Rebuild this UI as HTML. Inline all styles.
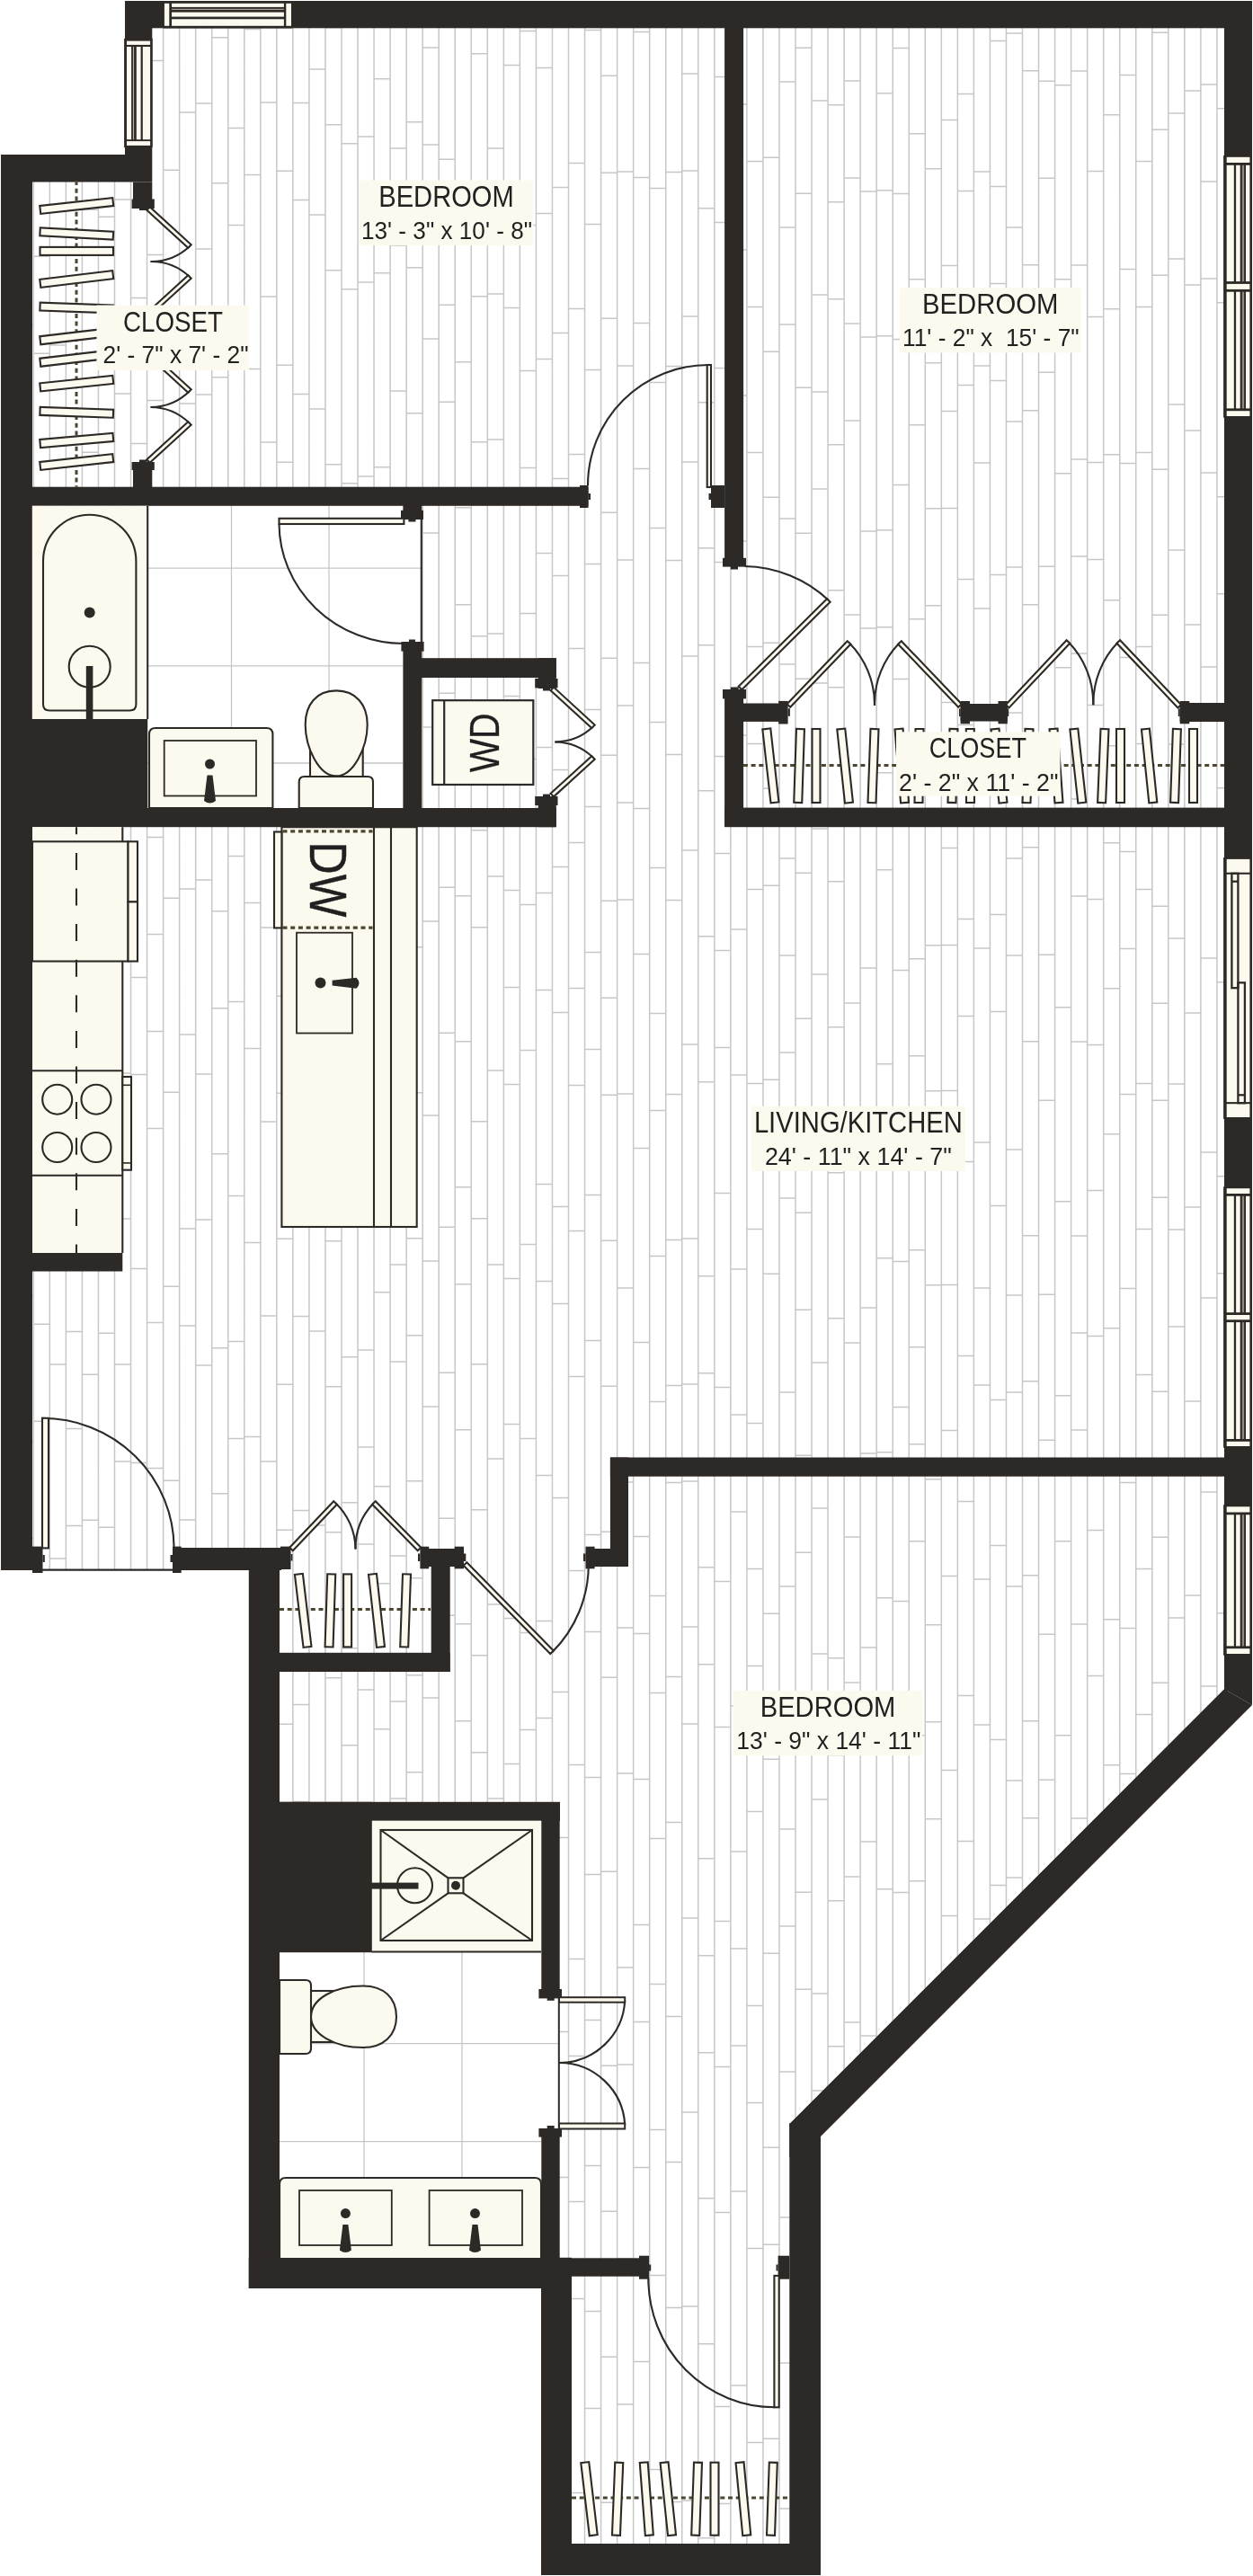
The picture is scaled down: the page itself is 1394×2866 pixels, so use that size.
<!DOCTYPE html>
<html><head><meta charset="utf-8"><title>Floor plan</title>
<style>html,body{margin:0;padding:0;background:#fff}svg{display:block}</style></head>
<body><svg width="1394" height="2866" viewBox="0 0 1394 2866">
<rect width="1394" height="2866" fill="#ffffff"/>
<defs><clipPath id="bld"><polygon points="139,1 1393,1 1393,1897 913,2377 913,2865 602,2865 602,2546 276.8,2546 276.8,1747 1,1747 1,172 139,172"/></clipPath></defs>
<g clip-path="url(#bld)">
<path d="M1.24 0V2866M1.24 15.9h18.04M1.24 231.9h18.04M1.24 339.9h18.04M1.24 447.9h18.04M1.24 663.9h18.04M1.24 771.9h18.04M1.24 933.9h18.04M1.24 1149.9h18.04M1.24 1257.9h18.04M1.24 1473.9h18.04M1.24 1635.9h18.04M1.24 1743.9h18.04M1.24 1851.9h18.04M1.24 2067.9h18.04M1.24 2283.9h18.04M1.24 2391.9h18.04M1.24 2553.9h18.04M1.24 2661.9h18.04M1.24 2877.9h18.04M19.28 0V2866M19.28 91.7h18.04M19.28 199.7h18.04M19.28 361.7h18.04M19.28 577.7h18.04M19.28 685.7h18.04M19.28 901.7h18.04M19.28 1117.7h18.04M19.28 1333.7h18.04M19.28 1441.7h18.04M19.28 1603.7h18.04M19.28 1711.7h18.04M19.28 1927.7h18.04M19.28 2089.7h18.04M19.28 2251.7h18.04M19.28 2467.7h18.04M19.28 2629.7h18.04M19.28 2845.7h18.04M19.28 2953.7h18.04M37.31 0V2866M37.31 123.3h18.04M37.31 285.3h18.04M37.31 393.3h18.04M37.31 609.3h18.04M37.31 825.3h18.04M37.31 987.3h18.04M37.31 1149.3h18.04M37.31 1257.3h18.04M37.31 1473.3h18.04M37.31 1581.3h18.04M37.31 1797.3h18.04M37.31 1905.3h18.04M37.31 2121.3h18.04M37.31 2283.3h18.04M37.31 2499.3h18.04M37.31 2715.3h18.04M37.31 2931.3h18.04M55.35 0V2866M55.35 167.9h18.04M55.35 383.9h18.04M55.35 599.9h18.04M55.35 761.9h18.04M55.35 923.9h18.04M55.35 1085.9h18.04M55.35 1247.9h18.04M55.35 1409.9h18.04M55.35 1517.9h18.04M55.35 1733.9h18.04M55.35 1895.9h18.04M55.35 2111.9h18.04M55.35 2327.9h18.04M55.35 2489.9h18.04M55.35 2705.9h18.04M55.35 2867.9h18.04M73.38 0V2866M73.38 23.5h18.04M73.38 131.5h18.04M73.38 347.5h18.04M73.38 563.5h18.04M73.38 725.5h18.04M73.38 887.5h18.04M73.38 1049.5h18.04M73.38 1265.5h18.04M73.38 1481.5h18.04M73.38 1589.5h18.04M73.38 1697.5h18.04M73.38 1913.5h18.04M73.38 2129.5h18.04M73.38 2291.5h18.04M73.38 2453.5h18.04M73.38 2615.5h18.04M73.38 2831.5h18.04M73.38 3047.5h18.04M91.42 0V2866M91.42 125.3h18.04M91.42 233.3h18.04M91.42 341.3h18.04M91.42 503.3h18.04M91.42 719.3h18.04M91.42 827.3h18.04M91.42 935.3h18.04M91.42 1097.3h18.04M91.42 1313.3h18.04M91.42 1529.3h18.04M91.42 1691.3h18.04M91.42 1907.3h18.04M91.42 2069.3h18.04M91.42 2177.3h18.04M91.42 2393.3h18.04M91.42 2555.3h18.04M91.42 2717.3h18.04M91.42 2933.3h18.04M109.46 0V2866M109.46 -82.7h18.04M109.46 79.3h18.04M109.46 241.3h18.04M109.46 403.3h18.04M109.46 565.3h18.04M109.46 781.3h18.04M109.46 997.3h18.04M109.46 1213.3h18.04M109.46 1321.3h18.04M109.46 1483.3h18.04M109.46 1699.3h18.04M109.46 1915.3h18.04M109.46 2131.3h18.04M109.46 2293.3h18.04M109.46 2455.3h18.04M109.46 2671.3h18.04M109.46 2887.3h18.04M127.49 0V2866M127.49 60.1h18.04M127.49 222.1h18.04M127.49 438.1h18.04M127.49 600.1h18.04M127.49 762.1h18.04M127.49 870.1h18.04M127.49 1032.1h18.04M127.49 1194.1h18.04M127.49 1356.1h18.04M127.49 1518.1h18.04M127.49 1626.1h18.04M127.49 1842.1h18.04M127.49 2058.1h18.04M127.49 2220.1h18.04M127.49 2382.1h18.04M127.49 2544.1h18.04M127.49 2652.1h18.04M127.49 2814.1h18.04M127.49 3030.1h18.04M145.53 0V2866M145.53 115.5h18.04M145.53 331.5h18.04M145.53 493.5h18.04M145.53 655.5h18.04M145.53 871.5h18.04M145.53 1087.5h18.04M145.53 1195.5h18.04M145.53 1411.5h18.04M145.53 1627.5h18.04M145.53 1843.5h18.04M145.53 2059.5h18.04M145.53 2275.5h18.04M145.53 2491.5h18.04M145.53 2599.5h18.04M145.53 2815.5h18.04M145.53 3031.5h18.04M163.56 0V2866M163.56 -94.6h18.04M163.56 67.4h18.04M163.56 283.4h18.04M163.56 445.4h18.04M163.56 553.4h18.04M163.56 715.4h18.04M163.56 931.4h18.04M163.56 1039.4h18.04M163.56 1147.4h18.04M163.56 1255.4h18.04M163.56 1471.4h18.04M163.56 1633.4h18.04M163.56 1849.4h18.04M163.56 1957.4h18.04M163.56 2119.4h18.04M163.56 2335.4h18.04M163.56 2443.4h18.04M163.56 2551.4h18.04M163.56 2713.4h18.04M163.56 2929.4h18.04M181.60 0V2866M181.60 27.3h18.04M181.60 189.3h18.04M181.60 405.3h18.04M181.60 567.3h18.04M181.60 783.3h18.04M181.60 891.3h18.04M181.60 999.3h18.04M181.60 1215.3h18.04M181.60 1431.3h18.04M181.60 1647.3h18.04M181.60 1863.3h18.04M181.60 2025.3h18.04M181.60 2133.3h18.04M181.60 2295.3h18.04M181.60 2403.3h18.04M181.60 2565.3h18.04M181.60 2727.3h18.04M181.60 2943.3h18.04M199.64 0V2866M199.64 125.0h18.04M199.64 341.0h18.04M199.64 449.0h18.04M199.64 611.0h18.04M199.64 827.0h18.04M199.64 989.0h18.04M199.64 1151.0h18.04M199.64 1367.0h18.04M199.64 1475.0h18.04M199.64 1691.0h18.04M199.64 1853.0h18.04M199.64 1961.0h18.04M199.64 2123.0h18.04M199.64 2339.0h18.04M199.64 2501.0h18.04M199.64 2663.0h18.04M199.64 2825.0h18.04M199.64 2987.0h18.04M217.67 0V2866M217.67 115.0h18.04M217.67 277.0h18.04M217.67 439.0h18.04M217.67 655.0h18.04M217.67 817.0h18.04M217.67 979.0h18.04M217.67 1195.0h18.04M217.67 1357.0h18.04M217.67 1519.0h18.04M217.67 1735.0h18.04M217.67 1951.0h18.04M217.67 2113.0h18.04M217.67 2221.0h18.04M217.67 2329.0h18.04M217.67 2491.0h18.04M217.67 2707.0h18.04M217.67 2869.0h18.04M235.71 0V2866M235.71 41.8h18.04M235.71 203.8h18.04M235.71 419.8h18.04M235.71 581.8h18.04M235.71 743.8h18.04M235.71 851.8h18.04M235.71 1013.8h18.04M235.71 1121.8h18.04M235.71 1283.8h18.04M235.71 1499.8h18.04M235.71 1661.8h18.04M235.71 1823.8h18.04M235.71 1985.8h18.04M235.71 2201.8h18.04M235.71 2417.8h18.04M235.71 2633.8h18.04M235.71 2741.8h18.04M235.71 2957.8h18.04M253.74 0V2866M253.74 142.4h18.04M253.74 250.4h18.04M253.74 358.4h18.04M253.74 574.4h18.04M253.74 736.4h18.04M253.74 952.4h18.04M253.74 1114.4h18.04M253.74 1330.4h18.04M253.74 1492.4h18.04M253.74 1600.4h18.04M253.74 1816.4h18.04M253.74 2032.4h18.04M253.74 2248.4h18.04M253.74 2356.4h18.04M253.74 2518.4h18.04M253.74 2680.4h18.04M253.74 2842.4h18.04M253.74 2950.4h18.04M271.78 0V2866M271.78 32.6h18.04M271.78 194.6h18.04M271.78 410.6h18.04M271.78 626.6h18.04M271.78 842.6h18.04M271.78 1004.6h18.04M271.78 1166.6h18.04M271.78 1382.6h18.04M271.78 1598.6h18.04M271.78 1760.6h18.04M271.78 1868.6h18.04M271.78 1976.6h18.04M271.78 2084.6h18.04M271.78 2300.6h18.04M271.78 2462.6h18.04M271.78 2678.6h18.04M271.78 2840.6h18.04M271.78 3002.6h18.04M289.82 0V2866M289.82 -48.0h18.04M289.82 114.0h18.04M289.82 330.0h18.04M289.82 492.0h18.04M289.82 708.0h18.04M289.82 870.0h18.04M289.82 1032.0h18.04M289.82 1248.0h18.04M289.82 1464.0h18.04M289.82 1626.0h18.04M289.82 1734.0h18.04M289.82 1896.0h18.04M289.82 2112.0h18.04M289.82 2328.0h18.04M289.82 2544.0h18.04M289.82 2760.0h18.04M289.82 2976.0h18.04M307.85 0V2866M307.85 -25.8h18.04M307.85 190.2h18.04M307.85 406.2h18.04M307.85 514.2h18.04M307.85 730.2h18.04M307.85 892.2h18.04M307.85 1108.2h18.04M307.85 1216.2h18.04M307.85 1378.2h18.04M307.85 1540.2h18.04M307.85 1702.2h18.04M307.85 1918.2h18.04M307.85 2134.2h18.04M307.85 2242.2h18.04M307.85 2458.2h18.04M307.85 2566.2h18.04M307.85 2728.2h18.04M307.85 2944.2h18.04M325.89 0V2866M325.89 114.6h18.04M325.89 222.6h18.04M325.89 438.6h18.04M325.89 546.6h18.04M325.89 708.6h18.04M325.89 870.6h18.04M325.89 1032.6h18.04M325.89 1140.6h18.04M325.89 1248.6h18.04M325.89 1464.6h18.04M325.89 1680.6h18.04M325.89 1896.6h18.04M325.89 2004.6h18.04M325.89 2112.6h18.04M325.89 2328.6h18.04M325.89 2490.6h18.04M325.89 2706.6h18.04M325.89 2922.6h18.04M343.92 0V2866M343.92 76.9h18.04M343.92 238.9h18.04M343.92 454.9h18.04M343.92 670.9h18.04M343.92 886.9h18.04M343.92 1102.9h18.04M343.92 1318.9h18.04M343.92 1480.9h18.04M343.92 1696.9h18.04M343.92 1858.9h18.04M343.92 2074.9h18.04M343.92 2236.9h18.04M343.92 2452.9h18.04M343.92 2614.9h18.04M343.92 2830.9h18.04M343.92 2938.9h18.04M361.96 0V2866M361.96 30.8h18.04M361.96 138.8h18.04M361.96 300.8h18.04M361.96 516.8h18.04M361.96 624.8h18.04M361.96 786.8h18.04M361.96 948.8h18.04M361.96 1056.8h18.04M361.96 1218.8h18.04M361.96 1380.8h18.04M361.96 1542.8h18.04M361.96 1704.8h18.04M361.96 1866.8h18.04M361.96 2082.8h18.04M361.96 2244.8h18.04M361.96 2352.8h18.04M361.96 2568.8h18.04M361.96 2784.8h18.04M361.96 2946.8h18.04M380.00 0V2866M380.00 159.8h18.04M380.00 321.8h18.04M380.00 537.8h18.04M380.00 753.8h18.04M380.00 969.8h18.04M380.00 1131.8h18.04M380.00 1347.8h18.04M380.00 1509.8h18.04M380.00 1671.8h18.04M380.00 1833.8h18.04M380.00 1941.8h18.04M380.00 2103.8h18.04M380.00 2211.8h18.04M380.00 2373.8h18.04M380.00 2589.8h18.04M380.00 2805.8h18.04M380.00 3021.8h18.04M398.03 0V2866M398.03 151.9h18.04M398.03 313.9h18.04M398.03 529.9h18.04M398.03 745.9h18.04M398.03 907.9h18.04M398.03 1123.9h18.04M398.03 1231.9h18.04M398.03 1339.9h18.04M398.03 1501.9h18.04M398.03 1609.9h18.04M398.03 1717.9h18.04M398.03 1879.9h18.04M398.03 2041.9h18.04M398.03 2149.9h18.04M398.03 2311.9h18.04M398.03 2473.9h18.04M398.03 2635.9h18.04M398.03 2851.9h18.04M398.03 3013.9h18.04M416.07 0V2866M416.07 87.7h18.04M416.07 303.7h18.04M416.07 519.7h18.04M416.07 735.7h18.04M416.07 897.7h18.04M416.07 1005.7h18.04M416.07 1167.7h18.04M416.07 1275.7h18.04M416.07 1437.7h18.04M416.07 1653.7h18.04M416.07 1761.7h18.04M416.07 1923.7h18.04M416.07 2031.7h18.04M416.07 2139.7h18.04M416.07 2301.7h18.04M416.07 2409.7h18.04M416.07 2625.7h18.04M416.07 2787.7h18.04M416.07 2895.7h18.04M434.10 0V2866M434.10 -50.9h18.04M434.10 165.1h18.04M434.10 273.1h18.04M434.10 435.1h18.04M434.10 651.1h18.04M434.10 867.1h18.04M434.10 1029.1h18.04M434.10 1245.1h18.04M434.10 1407.1h18.04M434.10 1515.1h18.04M434.10 1731.1h18.04M434.10 1893.1h18.04M434.10 2001.1h18.04M434.10 2163.1h18.04M434.10 2325.1h18.04M434.10 2433.1h18.04M434.10 2595.1h18.04M434.10 2757.1h18.04M434.10 2919.1h18.04M452.14 0V2866M452.14 135.8h18.04M452.14 297.8h18.04M452.14 459.8h18.04M452.14 675.8h18.04M452.14 891.8h18.04M452.14 1053.8h18.04M452.14 1215.8h18.04M452.14 1377.8h18.04M452.14 1485.8h18.04M452.14 1647.8h18.04M452.14 1755.8h18.04M452.14 1863.8h18.04M452.14 1971.8h18.04M452.14 2187.8h18.04M452.14 2403.8h18.04M452.14 2565.8h18.04M452.14 2781.8h18.04M452.14 2997.8h18.04M470.18 0V2866M470.18 53.1h18.04M470.18 161.1h18.04M470.18 377.1h18.04M470.18 593.1h18.04M470.18 809.1h18.04M470.18 1025.1h18.04M470.18 1241.1h18.04M470.18 1403.1h18.04M470.18 1565.1h18.04M470.18 1727.1h18.04M470.18 1889.1h18.04M470.18 2051.1h18.04M470.18 2213.1h18.04M470.18 2429.1h18.04M470.18 2591.1h18.04M470.18 2699.1h18.04M470.18 2861.1h18.04M470.18 2969.1h18.04M488.21 0V2866M488.21 -38.7h18.04M488.21 177.3h18.04M488.21 339.3h18.04M488.21 447.3h18.04M488.21 555.3h18.04M488.21 771.3h18.04M488.21 987.3h18.04M488.21 1149.3h18.04M488.21 1365.3h18.04M488.21 1527.3h18.04M488.21 1689.3h18.04M488.21 1797.3h18.04M488.21 2013.3h18.04M488.21 2175.3h18.04M488.21 2337.3h18.04M488.21 2499.3h18.04M488.21 2715.3h18.04M488.21 2823.3h18.04M488.21 2985.3h18.04M506.25 0V2866M506.25 24.7h18.04M506.25 240.7h18.04M506.25 402.7h18.04M506.25 564.7h18.04M506.25 672.7h18.04M506.25 834.7h18.04M506.25 996.7h18.04M506.25 1158.7h18.04M506.25 1320.7h18.04M506.25 1428.7h18.04M506.25 1590.7h18.04M506.25 1806.7h18.04M506.25 1914.7h18.04M506.25 2130.7h18.04M506.25 2292.7h18.04M506.25 2508.7h18.04M506.25 2670.7h18.04M506.25 2832.7h18.04M506.25 3048.7h18.04M524.28 0V2866M524.28 59.7h18.04M524.28 221.7h18.04M524.28 329.7h18.04M524.28 491.7h18.04M524.28 707.7h18.04M524.28 923.7h18.04M524.28 1031.7h18.04M524.28 1247.7h18.04M524.28 1355.7h18.04M524.28 1517.7h18.04M524.28 1679.7h18.04M524.28 1841.7h18.04M524.28 1949.7h18.04M524.28 2165.7h18.04M524.28 2381.7h18.04M524.28 2543.7h18.04M524.28 2759.7h18.04M524.28 2975.7h18.04M542.32 0V2866M542.32 165.1h18.04M542.32 327.1h18.04M542.32 489.1h18.04M542.32 705.1h18.04M542.32 867.1h18.04M542.32 975.1h18.04M542.32 1191.1h18.04M542.32 1407.1h18.04M542.32 1623.1h18.04M542.32 1785.1h18.04M542.32 2001.1h18.04M542.32 2217.1h18.04M542.32 2433.1h18.04M542.32 2541.1h18.04M542.32 2757.1h18.04M542.32 2919.1h18.04M560.36 0V2866M560.36 -89.6h18.04M560.36 72.4h18.04M560.36 234.4h18.04M560.36 342.4h18.04M560.36 558.4h18.04M560.36 774.4h18.04M560.36 990.4h18.04M560.36 1098.4h18.04M560.36 1206.4h18.04M560.36 1422.4h18.04M560.36 1584.4h18.04M560.36 1800.4h18.04M560.36 1962.4h18.04M560.36 2070.4h18.04M560.36 2286.4h18.04M560.36 2394.4h18.04M560.36 2610.4h18.04M560.36 2826.4h18.04M560.36 2934.4h18.04M578.39 0V2866M578.39 34.4h18.04M578.39 250.4h18.04M578.39 412.4h18.04M578.39 520.4h18.04M578.39 682.4h18.04M578.39 844.4h18.04M578.39 1006.4h18.04M578.39 1168.4h18.04M578.39 1384.4h18.04M578.39 1600.4h18.04M578.39 1816.4h18.04M578.39 1924.4h18.04M578.39 2140.4h18.04M578.39 2302.4h18.04M578.39 2410.4h18.04M578.39 2626.4h18.04M578.39 2788.4h18.04M578.39 2896.4h18.04M596.43 0V2866M596.43 75.5h18.04M596.43 237.5h18.04M596.43 399.5h18.04M596.43 615.5h18.04M596.43 831.5h18.04M596.43 993.5h18.04M596.43 1101.5h18.04M596.43 1317.5h18.04M596.43 1425.5h18.04M596.43 1641.5h18.04M596.43 1803.5h18.04M596.43 1911.5h18.04M596.43 2073.5h18.04M596.43 2289.5h18.04M596.43 2451.5h18.04M596.43 2667.5h18.04M596.43 2829.5h18.04M596.43 3045.5h18.04M614.46 0V2866M614.46 -7.4h18.04M614.46 208.6h18.04M614.46 370.6h18.04M614.46 532.6h18.04M614.46 640.6h18.04M614.46 856.6h18.04M614.46 964.6h18.04M614.46 1126.6h18.04M614.46 1342.6h18.04M614.46 1450.6h18.04M614.46 1666.6h18.04M614.46 1882.6h18.04M614.46 2044.6h18.04M614.46 2260.6h18.04M614.46 2422.6h18.04M614.46 2584.6h18.04M614.46 2692.6h18.04M614.46 2908.6h18.04M632.50 0V2866M632.50 19.5h18.04M632.50 181.5h18.04M632.50 343.5h18.04M632.50 505.5h18.04M632.50 721.5h18.04M632.50 937.5h18.04M632.50 1099.5h18.04M632.50 1207.5h18.04M632.50 1369.5h18.04M632.50 1531.5h18.04M632.50 1747.5h18.04M632.50 1963.5h18.04M632.50 2179.5h18.04M632.50 2287.5h18.04M632.50 2449.5h18.04M632.50 2557.5h18.04M632.50 2773.5h18.04M632.50 2989.5h18.04M650.54 0V2866M650.54 33.6h18.04M650.54 249.6h18.04M650.54 411.6h18.04M650.54 627.6h18.04M650.54 789.6h18.04M650.54 897.6h18.04M650.54 1059.6h18.04M650.54 1167.6h18.04M650.54 1329.6h18.04M650.54 1491.6h18.04M650.54 1707.6h18.04M650.54 1815.6h18.04M650.54 1977.6h18.04M650.54 2085.6h18.04M650.54 2247.6h18.04M650.54 2409.6h18.04M650.54 2571.6h18.04M650.54 2679.6h18.04M650.54 2895.6h18.04M668.57 0V2866M668.57 84.3h18.04M668.57 192.3h18.04M668.57 354.3h18.04M668.57 570.3h18.04M668.57 732.3h18.04M668.57 840.3h18.04M668.57 1002.3h18.04M668.57 1110.3h18.04M668.57 1218.3h18.04M668.57 1380.3h18.04M668.57 1542.3h18.04M668.57 1704.3h18.04M668.57 1866.3h18.04M668.57 2082.3h18.04M668.57 2298.3h18.04M668.57 2460.3h18.04M668.57 2622.3h18.04M668.57 2784.3h18.04M668.57 3000.3h18.04M686.61 0V2866M686.61 191.0h18.04M686.61 407.0h18.04M686.61 623.0h18.04M686.61 785.0h18.04M686.61 893.0h18.04M686.61 1001.0h18.04M686.61 1217.0h18.04M686.61 1433.0h18.04M686.61 1649.0h18.04M686.61 1811.0h18.04M686.61 1973.0h18.04M686.61 2189.0h18.04M686.61 2297.0h18.04M686.61 2513.0h18.04M686.61 2675.0h18.04M686.61 2837.0h18.04M686.61 3053.0h18.04M704.64 0V2866M704.64 35.6h18.04M704.64 197.6h18.04M704.64 359.6h18.04M704.64 521.6h18.04M704.64 737.6h18.04M704.64 899.6h18.04M704.64 1061.6h18.04M704.64 1277.6h18.04M704.64 1493.6h18.04M704.64 1709.6h18.04M704.64 1817.6h18.04M704.64 1979.6h18.04M704.64 2141.6h18.04M704.64 2249.6h18.04M704.64 2411.6h18.04M704.64 2627.6h18.04M704.64 2843.6h18.04M704.64 3059.6h18.04M722.68 0V2866M722.68 -6.5h18.04M722.68 209.5h18.04M722.68 425.5h18.04M722.68 587.5h18.04M722.68 803.5h18.04M722.68 965.5h18.04M722.68 1127.5h18.04M722.68 1235.5h18.04M722.68 1397.5h18.04M722.68 1559.5h18.04M722.68 1775.5h18.04M722.68 1883.5h18.04M722.68 2045.5h18.04M722.68 2207.5h18.04M722.68 2369.5h18.04M722.68 2531.5h18.04M722.68 2747.5h18.04M722.68 2909.5h18.04M740.72 0V2866M740.72 191.6h18.04M740.72 407.6h18.04M740.72 623.6h18.04M740.72 839.6h18.04M740.72 1001.6h18.04M740.72 1217.6h18.04M740.72 1379.6h18.04M740.72 1541.6h18.04M740.72 1649.6h18.04M740.72 1865.6h18.04M740.72 2027.6h18.04M740.72 2243.6h18.04M740.72 2405.6h18.04M740.72 2567.6h18.04M740.72 2783.6h18.04M740.72 2999.6h18.04M758.75 0V2866M758.75 82.0h18.04M758.75 190.0h18.04M758.75 352.0h18.04M758.75 514.0h18.04M758.75 730.0h18.04M758.75 946.0h18.04M758.75 1162.0h18.04M758.75 1378.0h18.04M758.75 1540.0h18.04M758.75 1648.0h18.04M758.75 1810.0h18.04M758.75 1918.0h18.04M758.75 2134.0h18.04M758.75 2350.0h18.04M758.75 2566.0h18.04M758.75 2782.0h18.04M758.75 2890.0h18.04M776.79 0V2866M776.79 15.8h18.04M776.79 231.8h18.04M776.79 447.8h18.04M776.79 609.8h18.04M776.79 717.8h18.04M776.79 879.8h18.04M776.79 1041.8h18.04M776.79 1203.8h18.04M776.79 1419.8h18.04M776.79 1527.8h18.04M776.79 1743.8h18.04M776.79 1851.8h18.04M776.79 2067.8h18.04M776.79 2175.8h18.04M776.79 2283.8h18.04M776.79 2445.8h18.04M776.79 2607.8h18.04M776.79 2823.8h18.04M776.79 2931.8h18.04M794.82 0V2866M794.82 85.4h18.04M794.82 247.4h18.04M794.82 409.4h18.04M794.82 625.4h18.04M794.82 841.4h18.04M794.82 949.4h18.04M794.82 1057.4h18.04M794.82 1165.4h18.04M794.82 1327.4h18.04M794.82 1543.4h18.04M794.82 1759.4h18.04M794.82 1921.4h18.04M794.82 2137.4h18.04M794.82 2299.4h18.04M794.82 2461.4h18.04M794.82 2677.4h18.04M794.82 2785.4h18.04M794.82 2893.4h18.04M812.86 0V2866M812.86 116.1h18.04M812.86 278.1h18.04M812.86 440.1h18.04M812.86 602.1h18.04M812.86 818.1h18.04M812.86 1034.1h18.04M812.86 1196.1h18.04M812.86 1412.1h18.04M812.86 1574.1h18.04M812.86 1682.1h18.04M812.86 1898.1h18.04M812.86 2060.1h18.04M812.86 2168.1h18.04M812.86 2276.1h18.04M812.86 2438.1h18.04M812.86 2654.1h18.04M812.86 2870.1h18.04M830.90 0V2866M830.90 -36.5h18.04M830.90 179.5h18.04M830.90 341.5h18.04M830.90 503.5h18.04M830.90 719.5h18.04M830.90 827.5h18.04M830.90 989.5h18.04M830.90 1205.5h18.04M830.90 1367.5h18.04M830.90 1583.5h18.04M830.90 1745.5h18.04M830.90 1853.5h18.04M830.90 2015.5h18.04M830.90 2231.5h18.04M830.90 2339.5h18.04M830.90 2501.5h18.04M830.90 2717.5h18.04M830.90 2879.5h18.04M848.93 0V2866M848.93 13.3h18.04M848.93 175.3h18.04M848.93 391.3h18.04M848.93 553.3h18.04M848.93 715.3h18.04M848.93 877.3h18.04M848.93 985.3h18.04M848.93 1201.3h18.04M848.93 1417.3h18.04M848.93 1633.3h18.04M848.93 1795.3h18.04M848.93 1957.3h18.04M848.93 2173.3h18.04M848.93 2389.3h18.04M848.93 2497.3h18.04M848.93 2713.3h18.04M848.93 2875.3h18.04M866.97 0V2866M866.97 91.1h18.04M866.97 253.1h18.04M866.97 361.1h18.04M866.97 577.1h18.04M866.97 739.1h18.04M866.97 955.1h18.04M866.97 1063.1h18.04M866.97 1171.1h18.04M866.97 1333.1h18.04M866.97 1549.1h18.04M866.97 1765.1h18.04M866.97 1927.1h18.04M866.97 2035.1h18.04M866.97 2143.1h18.04M866.97 2305.1h18.04M866.97 2467.1h18.04M866.97 2629.1h18.04M866.97 2791.1h18.04M866.97 3007.1h18.04M885.00 0V2866M885.00 53.2h18.04M885.00 215.2h18.04M885.00 431.2h18.04M885.00 593.2h18.04M885.00 755.2h18.04M885.00 971.2h18.04M885.00 1133.2h18.04M885.00 1241.2h18.04M885.00 1349.2h18.04M885.00 1457.2h18.04M885.00 1619.2h18.04M885.00 1727.2h18.04M885.00 1889.2h18.04M885.00 2105.2h18.04M885.00 2213.2h18.04M885.00 2429.2h18.04M885.00 2591.2h18.04M885.00 2807.2h18.04M885.00 2969.2h18.04M903.04 0V2866M903.04 112.0h18.04M903.04 328.0h18.04M903.04 436.0h18.04M903.04 544.0h18.04M903.04 760.0h18.04M903.04 922.0h18.04M903.04 1084.0h18.04M903.04 1300.0h18.04M903.04 1516.0h18.04M903.04 1678.0h18.04M903.04 1840.0h18.04M903.04 2002.0h18.04M903.04 2218.0h18.04M903.04 2326.0h18.04M903.04 2542.0h18.04M903.04 2704.0h18.04M903.04 2920.0h18.04M921.08 0V2866M921.08 -99.2h18.04M921.08 116.8h18.04M921.08 224.8h18.04M921.08 332.8h18.04M921.08 494.8h18.04M921.08 656.8h18.04M921.08 764.8h18.04M921.08 980.8h18.04M921.08 1142.8h18.04M921.08 1304.8h18.04M921.08 1466.8h18.04M921.08 1628.8h18.04M921.08 1844.8h18.04M921.08 1952.8h18.04M921.08 2114.8h18.04M921.08 2276.8h18.04M921.08 2438.8h18.04M921.08 2600.8h18.04M921.08 2708.8h18.04M921.08 2924.8h18.04M939.11 0V2866M939.11 90.0h18.04M939.11 198.0h18.04M939.11 360.0h18.04M939.11 468.0h18.04M939.11 684.0h18.04M939.11 900.0h18.04M939.11 1116.0h18.04M939.11 1278.0h18.04M939.11 1494.0h18.04M939.11 1710.0h18.04M939.11 1872.0h18.04M939.11 2088.0h18.04M939.11 2250.0h18.04M939.11 2358.0h18.04M939.11 2520.0h18.04M939.11 2682.0h18.04M939.11 2898.0h18.04M957.15 0V2866M957.15 -3.0h18.04M957.15 213.0h18.04M957.15 375.0h18.04M957.15 591.0h18.04M957.15 699.0h18.04M957.15 915.0h18.04M957.15 1077.0h18.04M957.15 1293.0h18.04M957.15 1455.0h18.04M957.15 1617.0h18.04M957.15 1833.0h18.04M957.15 1941.0h18.04M957.15 2049.0h18.04M957.15 2265.0h18.04M957.15 2481.0h18.04M957.15 2697.0h18.04M957.15 2859.0h18.04M957.15 3021.0h18.04M975.18 0V2866M975.18 103.7h18.04M975.18 211.7h18.04M975.18 373.7h18.04M975.18 589.7h18.04M975.18 697.7h18.04M975.18 859.7h18.04M975.18 967.7h18.04M975.18 1183.7h18.04M975.18 1399.7h18.04M975.18 1615.7h18.04M975.18 1777.7h18.04M975.18 1939.7h18.04M975.18 2101.7h18.04M975.18 2317.7h18.04M975.18 2533.7h18.04M975.18 2749.7h18.04M975.18 2911.7h18.04M993.22 0V2866M993.22 53.6h18.04M993.22 215.6h18.04M993.22 377.6h18.04M993.22 539.6h18.04M993.22 755.6h18.04M993.22 917.6h18.04M993.22 1079.6h18.04M993.22 1241.6h18.04M993.22 1403.6h18.04M993.22 1565.6h18.04M993.22 1781.6h18.04M993.22 1943.6h18.04M993.22 2105.6h18.04M993.22 2267.6h18.04M993.22 2429.6h18.04M993.22 2591.6h18.04M993.22 2753.6h18.04M993.22 2969.6h18.04M1011.26 0V2866M1011.26 -67.3h18.04M1011.26 148.7h18.04M1011.26 310.7h18.04M1011.26 472.7h18.04M1011.26 688.7h18.04M1011.26 904.7h18.04M1011.26 1066.7h18.04M1011.26 1174.7h18.04M1011.26 1390.7h18.04M1011.26 1498.7h18.04M1011.26 1606.7h18.04M1011.26 1714.7h18.04M1011.26 1930.7h18.04M1011.26 2092.7h18.04M1011.26 2308.7h18.04M1011.26 2470.7h18.04M1011.26 2578.7h18.04M1011.26 2740.7h18.04M1011.26 2902.7h18.04M1029.29 0V2866M1029.29 -28.2h18.04M1029.29 187.8h18.04M1029.29 403.8h18.04M1029.29 565.8h18.04M1029.29 673.8h18.04M1029.29 835.8h18.04M1029.29 1051.8h18.04M1029.29 1213.8h18.04M1029.29 1429.8h18.04M1029.29 1645.8h18.04M1029.29 1807.8h18.04M1029.29 1915.8h18.04M1029.29 2023.8h18.04M1029.29 2239.8h18.04M1029.29 2455.8h18.04M1029.29 2617.8h18.04M1029.29 2779.8h18.04M1029.29 2887.8h18.04M1047.33 0V2866M1047.33 25.6h18.04M1047.33 133.6h18.04M1047.33 295.6h18.04M1047.33 457.6h18.04M1047.33 565.6h18.04M1047.33 781.6h18.04M1047.33 943.6h18.04M1047.33 1051.6h18.04M1047.33 1213.6h18.04M1047.33 1429.6h18.04M1047.33 1591.6h18.04M1047.33 1753.6h18.04M1047.33 1969.6h18.04M1047.33 2131.6h18.04M1047.33 2239.6h18.04M1047.33 2401.6h18.04M1047.33 2509.6h18.04M1047.33 2725.6h18.04M1047.33 2941.6h18.04M1065.36 0V2866M1065.36 104.4h18.04M1065.36 212.4h18.04M1065.36 428.4h18.04M1065.36 644.4h18.04M1065.36 806.4h18.04M1065.36 1022.4h18.04M1065.36 1130.4h18.04M1065.36 1292.4h18.04M1065.36 1508.4h18.04M1065.36 1670.4h18.04M1065.36 1886.4h18.04M1065.36 2048.4h18.04M1065.36 2210.4h18.04M1065.36 2426.4h18.04M1065.36 2534.4h18.04M1065.36 2696.4h18.04M1065.36 2912.4h18.04M1083.40 0V2866M1083.40 190.9h18.04M1083.40 406.9h18.04M1083.40 514.9h18.04M1083.40 676.9h18.04M1083.40 838.9h18.04M1083.40 1054.9h18.04M1083.40 1270.9h18.04M1083.40 1432.9h18.04M1083.40 1540.9h18.04M1083.40 1756.9h18.04M1083.40 1918.9h18.04M1083.40 2134.9h18.04M1083.40 2242.9h18.04M1083.40 2350.9h18.04M1083.40 2566.9h18.04M1083.40 2782.9h18.04M1083.40 2944.9h18.04M1101.44 0V2866M1101.44 45.6h18.04M1101.44 207.6h18.04M1101.44 315.6h18.04M1101.44 423.6h18.04M1101.44 639.6h18.04M1101.44 801.6h18.04M1101.44 1017.6h18.04M1101.44 1125.6h18.04M1101.44 1341.6h18.04M1101.44 1557.6h18.04M1101.44 1719.6h18.04M1101.44 1935.6h18.04M1101.44 2097.6h18.04M1101.44 2259.6h18.04M1101.44 2421.6h18.04M1101.44 2583.6h18.04M1101.44 2745.6h18.04M1101.44 2961.6h18.04M1119.47 0V2866M1119.47 -70.9h18.04M1119.47 37.1h18.04M1119.47 253.1h18.04M1119.47 469.1h18.04M1119.47 631.1h18.04M1119.47 793.1h18.04M1119.47 955.1h18.04M1119.47 1063.1h18.04M1119.47 1279.1h18.04M1119.47 1441.1h18.04M1119.47 1549.1h18.04M1119.47 1765.1h18.04M1119.47 1981.1h18.04M1119.47 2089.1h18.04M1119.47 2305.1h18.04M1119.47 2467.1h18.04M1119.47 2629.1h18.04M1119.47 2845.1h18.04M1119.47 3061.1h18.04M1137.51 0V2866M1137.51 78.8h18.04M1137.51 294.8h18.04M1137.51 456.8h18.04M1137.51 672.8h18.04M1137.51 834.8h18.04M1137.51 942.8h18.04M1137.51 1158.8h18.04M1137.51 1374.8h18.04M1137.51 1536.8h18.04M1137.51 1752.8h18.04M1137.51 1914.8h18.04M1137.51 2022.8h18.04M1137.51 2184.8h18.04M1137.51 2346.8h18.04M1137.51 2508.8h18.04M1137.51 2616.8h18.04M1137.51 2832.8h18.04M1137.51 2940.8h18.04M1155.54 0V2866M1155.54 90.3h18.04M1155.54 198.3h18.04M1155.54 414.3h18.04M1155.54 630.3h18.04M1155.54 846.3h18.04M1155.54 1062.3h18.04M1155.54 1224.3h18.04M1155.54 1440.3h18.04M1155.54 1602.3h18.04M1155.54 1818.3h18.04M1155.54 1980.3h18.04M1155.54 2196.3h18.04M1155.54 2412.3h18.04M1155.54 2574.3h18.04M1155.54 2790.3h18.04M1155.54 3006.3h18.04M1173.58 0V2866M1173.58 -13.3h18.04M1173.58 94.7h18.04M1173.58 310.7h18.04M1173.58 526.7h18.04M1173.58 742.7h18.04M1173.58 904.7h18.04M1173.58 1120.7h18.04M1173.58 1336.7h18.04M1173.58 1552.7h18.04M1173.58 1714.7h18.04M1173.58 1930.7h18.04M1173.58 2146.7h18.04M1173.58 2254.7h18.04M1173.58 2362.7h18.04M1173.58 2524.7h18.04M1173.58 2686.7h18.04M1173.58 2902.7h18.04M1191.62 0V2866M1191.62 78.9h18.04M1191.62 294.9h18.04M1191.62 510.9h18.04M1191.62 618.9h18.04M1191.62 726.9h18.04M1191.62 888.9h18.04M1191.62 996.9h18.04M1191.62 1158.9h18.04M1191.62 1374.9h18.04M1191.62 1482.9h18.04M1191.62 1590.9h18.04M1191.62 1806.9h18.04M1191.62 2022.9h18.04M1191.62 2184.9h18.04M1191.62 2292.9h18.04M1191.62 2400.9h18.04M1191.62 2616.9h18.04M1191.62 2724.9h18.04M1191.62 2886.9h18.04M1209.65 0V2866M1209.65 28.4h18.04M1209.65 190.4h18.04M1209.65 352.4h18.04M1209.65 514.4h18.04M1209.65 622.4h18.04M1209.65 784.4h18.04M1209.65 1000.4h18.04M1209.65 1162.4h18.04M1209.65 1324.4h18.04M1209.65 1486.4h18.04M1209.65 1702.4h18.04M1209.65 1864.4h18.04M1209.65 2080.4h18.04M1209.65 2242.4h18.04M1209.65 2404.4h18.04M1209.65 2620.4h18.04M1209.65 2836.4h18.04M1209.65 2998.4h18.04M1227.69 0V2866M1227.69 127.8h18.04M1227.69 343.8h18.04M1227.69 505.8h18.04M1227.69 667.8h18.04M1227.69 829.8h18.04M1227.69 937.8h18.04M1227.69 1099.8h18.04M1227.69 1261.8h18.04M1227.69 1477.8h18.04M1227.69 1639.8h18.04M1227.69 1801.8h18.04M1227.69 1963.8h18.04M1227.69 2179.8h18.04M1227.69 2341.8h18.04M1227.69 2503.8h18.04M1227.69 2611.8h18.04M1227.69 2827.8h18.04M1227.69 2935.8h18.04M1245.72 0V2866M1245.72 83.4h18.04M1245.72 299.4h18.04M1245.72 515.4h18.04M1245.72 731.4h18.04M1245.72 947.4h18.04M1245.72 1055.4h18.04M1245.72 1217.4h18.04M1245.72 1433.4h18.04M1245.72 1649.4h18.04M1245.72 1811.4h18.04M1245.72 1973.4h18.04M1245.72 2189.4h18.04M1245.72 2351.4h18.04M1245.72 2567.4h18.04M1245.72 2729.4h18.04M1245.72 2891.4h18.04M1263.76 0V2866M1263.76 -36.5h18.04M1263.76 179.5h18.04M1263.76 341.5h18.04M1263.76 503.5h18.04M1263.76 719.5h18.04M1263.76 827.5h18.04M1263.76 989.5h18.04M1263.76 1205.5h18.04M1263.76 1367.5h18.04M1263.76 1529.5h18.04M1263.76 1745.5h18.04M1263.76 1907.5h18.04M1263.76 2015.5h18.04M1263.76 2123.5h18.04M1263.76 2285.5h18.04M1263.76 2447.5h18.04M1263.76 2609.5h18.04M1263.76 2825.5h18.04M1263.76 3041.5h18.04M1281.80 0V2866M1281.80 36.2h18.04M1281.80 144.2h18.04M1281.80 306.2h18.04M1281.80 522.2h18.04M1281.80 684.2h18.04M1281.80 900.2h18.04M1281.80 1008.2h18.04M1281.80 1116.2h18.04M1281.80 1224.2h18.04M1281.80 1332.2h18.04M1281.80 1548.2h18.04M1281.80 1710.2h18.04M1281.80 1872.2h18.04M1281.80 1980.2h18.04M1281.80 2196.2h18.04M1281.80 2358.2h18.04M1281.80 2574.2h18.04M1281.80 2736.2h18.04M1281.80 2952.2h18.04M1299.83 0V2866M1299.83 126.1h18.04M1299.83 288.1h18.04M1299.83 450.1h18.04M1299.83 612.1h18.04M1299.83 828.1h18.04M1299.83 1044.1h18.04M1299.83 1206.1h18.04M1299.83 1368.1h18.04M1299.83 1476.1h18.04M1299.83 1638.1h18.04M1299.83 1800.1h18.04M1299.83 2016.1h18.04M1299.83 2124.1h18.04M1299.83 2232.1h18.04M1299.83 2394.1h18.04M1299.83 2556.1h18.04M1299.83 2772.1h18.04M1299.83 2934.1h18.04M1317.87 0V2866M1317.87 100.9h18.04M1317.87 316.9h18.04M1317.87 478.9h18.04M1317.87 694.9h18.04M1317.87 910.9h18.04M1317.87 1126.9h18.04M1317.87 1342.9h18.04M1317.87 1558.9h18.04M1317.87 1774.9h18.04M1317.87 1936.9h18.04M1317.87 2098.9h18.04M1317.87 2206.9h18.04M1317.87 2314.9h18.04M1317.87 2422.9h18.04M1317.87 2638.9h18.04M1317.87 2746.9h18.04M1317.87 2962.9h18.04M1335.90 0V2866M1335.90 -13.9h18.04M1335.90 94.1h18.04M1335.90 202.1h18.04M1335.90 310.1h18.04M1335.90 526.1h18.04M1335.90 742.1h18.04M1335.90 904.1h18.04M1335.90 1066.1h18.04M1335.90 1282.1h18.04M1335.90 1444.1h18.04M1335.90 1660.1h18.04M1335.90 1876.1h18.04M1335.90 2092.1h18.04M1335.90 2308.1h18.04M1335.90 2524.1h18.04M1335.90 2686.1h18.04M1335.90 2902.1h18.04M1353.94 0V2866M1353.94 12.8h18.04M1353.94 120.8h18.04M1353.94 336.8h18.04M1353.94 552.8h18.04M1353.94 660.8h18.04M1353.94 876.8h18.04M1353.94 1092.8h18.04M1353.94 1308.8h18.04M1353.94 1416.8h18.04M1353.94 1632.8h18.04M1353.94 1794.8h18.04M1353.94 1956.8h18.04M1353.94 2064.8h18.04M1353.94 2226.8h18.04M1353.94 2388.8h18.04M1353.94 2496.8h18.04M1353.94 2604.8h18.04M1353.94 2766.8h18.04M1353.94 2928.8h18.04M1371.98 0V2866M1371.98 99.7h18.04M1371.98 315.7h18.04M1371.98 531.7h18.04M1371.98 747.7h18.04M1371.98 909.7h18.04M1371.98 1071.7h18.04M1371.98 1233.7h18.04M1371.98 1341.7h18.04M1371.98 1557.7h18.04M1371.98 1665.7h18.04M1371.98 1827.7h18.04M1371.98 1989.7h18.04M1371.98 2151.7h18.04M1371.98 2313.7h18.04M1371.98 2475.7h18.04M1371.98 2637.7h18.04M1371.98 2799.7h18.04M1371.98 3015.7h18.04M1390.01 0V2866M1390.01 17.0h18.04M1390.01 233.0h18.04M1390.01 449.0h18.04M1390.01 665.0h18.04M1390.01 881.0h18.04M1390.01 1097.0h18.04M1390.01 1205.0h18.04M1390.01 1313.0h18.04M1390.01 1529.0h18.04M1390.01 1691.0h18.04M1390.01 1907.0h18.04M1390.01 2069.0h18.04M1390.01 2231.0h18.04M1390.01 2447.0h18.04M1390.01 2663.0h18.04M1390.01 2879.0h18.04" stroke="#c7c7c7" stroke-width="1.5" fill="none"/>
</g>
<rect x="164.2" y="562.8" width="305.1" height="336.2" fill="#ffffff" />
<line x1="257.5" y1="562.8" x2="257.5" y2="899.0" stroke="#c6c6c6" stroke-width="1.3" />
<line x1="366.0" y1="562.8" x2="366.0" y2="899.0" stroke="#c6c6c6" stroke-width="1.3" />
<line x1="164.2" y1="632.2" x2="469.3" y2="632.2" stroke="#c6c6c6" stroke-width="1.3" />
<line x1="164.2" y1="740.8" x2="448.4" y2="740.8" stroke="#c6c6c6" stroke-width="1.3" />
<line x1="164.2" y1="849.0" x2="448.4" y2="849.0" stroke="#c6c6c6" stroke-width="1.3" />
<rect x="311.0" y="2025.0" width="291.0" height="488.0" fill="#ffffff" />
<rect x="602.0" y="2221.0" width="21.0" height="150.0" fill="#ffffff" />
<line x1="405.0" y1="2171.0" x2="405.0" y2="2513.0" stroke="#c6c6c6" stroke-width="1.3" />
<line x1="514.0" y1="2171.0" x2="514.0" y2="2513.0" stroke="#c6c6c6" stroke-width="1.3" />
<line x1="311.0" y1="2273.7" x2="621.0" y2="2273.7" stroke="#c6c6c6" stroke-width="1.3" />
<line x1="311.0" y1="2382.7" x2="602.0" y2="2382.7" stroke="#c6c6c6" stroke-width="1.3" />
<rect x="139.0" y="1.0" width="1254.0" height="30.3" fill="#2d2926" />
<rect x="139.0" y="1.0" width="30.3" height="171.0" fill="#2d2926" />
<rect x="1.0" y="172.0" width="168.3" height="30.5" fill="#2d2926" />
<rect x="148.0" y="202.5" width="21.3" height="29.5" fill="#2d2926" />
<rect x="1.0" y="172.0" width="35.0" height="1575.0" fill="#2d2926" />
<rect x="148.0" y="514.0" width="21.3" height="28.0" fill="#2d2926" />
<rect x="36.0" y="541.7" width="618.5" height="21.1" fill="#2d2926" />
<rect x="806.1" y="31.0" width="21.0" height="599.0" fill="#2d2926" />
<rect x="1362.0" y="1.0" width="31.0" height="1880.0" fill="#2d2926" />
<rect x="806.1" y="767.0" width="21.0" height="153.0" fill="#2d2926" />
<rect x="806.2" y="898.6" width="555.8" height="21.6" fill="#2d2926" />
<rect x="826.0" y="782.5" width="41.0" height="20.4" fill="#2d2926" />
<rect x="1068.6" y="783.0" width="52.2" height="19.5" fill="#2d2926" />
<rect x="1312.7" y="782.0" width="49.3" height="21.0" fill="#2d2926" />
<rect x="36.0" y="899.0" width="582.8" height="21.2" fill="#2d2926" />
<rect x="36.0" y="800.0" width="128.2" height="99.0" fill="#2d2926" />
<rect x="448.4" y="714.0" width="20.9" height="185.0" fill="#2d2926" />
<rect x="448.4" y="562.0" width="20.9" height="16.0" fill="#2d2926" />
<rect x="469.0" y="732.2" width="149.8" height="21.8" fill="#2d2926" />
<rect x="598.7" y="732.2" width="20.1" height="33.8" fill="#2d2926" />
<rect x="598.7" y="886.0" width="20.1" height="34.2" fill="#2d2926" />
<rect x="36.0" y="1394.0" width="100.3" height="20.5" fill="#2d2926" />
<rect x="194.0" y="1722.0" width="119.0" height="25.0" fill="#2d2926" />
<rect x="276.8" y="1722.0" width="34.2" height="824.0" fill="#2d2926" />
<rect x="311.0" y="1838.8" width="189.7" height="21.2" fill="#2d2926" />
<rect x="479.7" y="1723.0" width="21.0" height="137.0" fill="#2d2926" />
<rect x="477.0" y="1723.0" width="29.0" height="20.0" fill="#2d2926" />
<rect x="656.0" y="1723.0" width="43.0" height="20.0" fill="#2d2926" />
<rect x="678.9" y="1621.5" width="20.1" height="121.5" fill="#2d2926" />
<rect x="678.9" y="1621.5" width="683.1" height="21.2" fill="#2d2926" />
<rect x="311.0" y="2004.8" width="312.0" height="21.0" fill="#2d2926" />
<rect x="311.0" y="2004.8" width="102.9" height="167.4" fill="#2d2926" />
<rect x="602.3" y="2005.0" width="20.4" height="216.0" fill="#2d2926" />
<rect x="602.3" y="2371.0" width="20.4" height="161.7" fill="#2d2926" />
<rect x="276.8" y="2511.8" width="359.2" height="34.2" fill="#2d2926" />
<rect x="602.0" y="2512.3" width="34.0" height="352.7" fill="#2d2926" />
<rect x="602.0" y="2830.0" width="311.0" height="35.0" fill="#2d2926" />
<rect x="878.3" y="2362.3" width="34.7" height="502.7" fill="#2d2926" />
<rect x="623.0" y="2512.3" width="98.3" height="20.4" fill="#2d2926" />
<polygon points="1362.0,1879.3 1393.0,1897.0 1393.0,1880.0 1362.0,1860.0" fill="#2d2926"/>
<polygon points="1362.0,1879.3 1393.0,1897.0 913.0,2377.0 913.0,2400.0 878.3,2400.0 878.3,2363.0" fill="#2d2926"/>
<rect x="146.6" y="221.5" width="25.2" height="10.5" fill="#2d2926" />
<rect x="155.0" y="232.0" width="8.4" height="2.0" fill="#2d2926" />
<rect x="146.6" y="514.0" width="25.2" height="9.0" fill="#2d2926" />
<rect x="155.0" y="511.5" width="8.4" height="2.5" fill="#2d2926" />
<rect x="645.0" y="540.0" width="9.5" height="25.0" fill="#2d2926" />
<rect x="654.5" y="549.0" width="2.5" height="7.0" fill="#2d2926" />
<rect x="791.0" y="540.0" width="15.0" height="25.0" fill="#2d2926" />
<rect x="788.5" y="549.0" width="2.5" height="7.0" fill="#2d2926" />
<rect x="804.0" y="620.8" width="26.0" height="9.8" fill="#2d2926" />
<rect x="812.8" y="630.0" width="8.2" height="3.5" fill="#2d2926" />
<rect x="804.0" y="767.0" width="26.0" height="10.4" fill="#2d2926" />
<rect x="812.8" y="764.5" width="8.9" height="3.0" fill="#2d2926" />
<rect x="866.2" y="779.9" width="10.4" height="25.6" fill="#2d2926" />
<rect x="876.6" y="788.2" width="2.3" height="8.6" fill="#2d2926" />
<rect x="1068.6" y="780.0" width="10.4" height="25.3" fill="#2d2926" />
<rect x="1110.5" y="780.0" width="10.3" height="25.3" fill="#2d2926" />
<rect x="1067.0" y="788.5" width="1.6" height="8.5" fill="#2d2926" />
<rect x="1120.8" y="788.5" width="1.4" height="8.5" fill="#2d2926" />
<rect x="1312.7" y="780.0" width="10.6" height="25.3" fill="#2d2926" />
<rect x="1310.8" y="788.5" width="1.9" height="8.5" fill="#2d2926" />
<rect x="446.0" y="567.8" width="25.0" height="10.2" fill="#2d2926" />
<rect x="454.4" y="577.5" width="8.0" height="3.0" fill="#2d2926" />
<rect x="446.4" y="714.0" width="25.2" height="10.6" fill="#2d2926" />
<rect x="455.0" y="711.5" width="7.0" height="2.5" fill="#2d2926" />
<rect x="595.2" y="755.0" width="25.3" height="10.4" fill="#2d2926" />
<rect x="604.0" y="765.0" width="8.0" height="3.5" fill="#2d2926" />
<rect x="595.2" y="886.0" width="25.3" height="10.0" fill="#2d2926" />
<rect x="604.0" y="883.6" width="8.0" height="2.9" fill="#2d2926" />
<rect x="36.0" y="1720.6" width="11.5" height="29.4" fill="#2d2926" />
<rect x="47.5" y="1730.0" width="2.3" height="8.0" fill="#2d2926" />
<rect x="192.0" y="1720.6" width="9.7" height="29.4" fill="#2d2926" />
<rect x="189.5" y="1730.0" width="2.5" height="8.0" fill="#2d2926" />
<rect x="312.0" y="1720.6" width="11.5" height="25.4" fill="#2d2926" />
<rect x="323.5" y="1729.0" width="1.9" height="7.5" fill="#2d2926" />
<rect x="467.4" y="1720.7" width="9.8" height="24.6" fill="#2d2926" />
<rect x="465.0" y="1728.5" width="2.4" height="8.5" fill="#2d2926" />
<rect x="505.7" y="1720.7" width="10.3" height="24.6" fill="#2d2926" />
<rect x="516.0" y="1728.5" width="2.3" height="8.5" fill="#2d2926" />
<rect x="651.5" y="1720.7" width="10.1" height="24.6" fill="#2d2926" />
<rect x="649.0" y="1728.5" width="2.5" height="8.5" fill="#2d2926" />
<rect x="599.4" y="2213.0" width="25.6" height="10.4" fill="#2d2926" />
<rect x="608.7" y="2222.5" width="8.0" height="3.3" fill="#2d2926" />
<rect x="599.4" y="2368.0" width="25.6" height="9.6" fill="#2d2926" />
<rect x="608.7" y="2365.0" width="8.0" height="3.0" fill="#2d2926" />
<rect x="711.0" y="2509.7" width="11.1" height="26.0" fill="#2d2926" />
<rect x="722.1" y="2519.5" width="2.1" height="7.0" fill="#2d2926" />
<rect x="865.6" y="2509.7" width="12.7" height="26.0" fill="#2d2926" />
<rect x="863.5" y="2519.5" width="2.1" height="7.0" fill="#2d2926" />
<line x1="85.0" y1="201.0" x2="85.0" y2="541.7" stroke="#4d4630" stroke-width="3" stroke-dasharray="5 3.7" />
<rect x="44.5" y="224.5" width="81.5" height="9" fill="#fcfaee" stroke="#2d2926" stroke-width="2.1" transform="rotate(-6.30 85.2 229.0)"/>
<rect x="44.5" y="255.5" width="81.5" height="9" fill="#fcfaee" stroke="#2d2926" stroke-width="2.1" transform="rotate(3.00 85.2 260.0)"/>
<rect x="44.5" y="274.9" width="81.5" height="9" fill="#fcfaee" stroke="#2d2926" stroke-width="2.1" transform="rotate(0.00 85.2 279.4)"/>
<rect x="44.5" y="306.0" width="81.5" height="9" fill="#fcfaee" stroke="#2d2926" stroke-width="2.1" transform="rotate(-6.90 85.2 310.5)"/>
<rect x="44.5" y="338.0" width="81.5" height="9" fill="#fcfaee" stroke="#2d2926" stroke-width="2.1" transform="rotate(2.00 85.2 342.5)"/>
<rect x="44.5" y="369.5" width="81.5" height="9" fill="#fcfaee" stroke="#2d2926" stroke-width="2.1" transform="rotate(-6.70 85.2 374.0)"/>
<rect x="44.5" y="394.0" width="81.5" height="9" fill="#fcfaee" stroke="#2d2926" stroke-width="2.1" transform="rotate(-6.70 85.2 398.5)"/>
<rect x="44.5" y="422.1" width="81.5" height="9" fill="#fcfaee" stroke="#2d2926" stroke-width="2.1" transform="rotate(-6.00 85.2 426.6)"/>
<rect x="44.5" y="454.3" width="81.5" height="9" fill="#fcfaee" stroke="#2d2926" stroke-width="2.1" transform="rotate(2.00 85.2 458.8)"/>
<rect x="44.5" y="485.5" width="81.5" height="9" fill="#fcfaee" stroke="#2d2926" stroke-width="2.1" transform="rotate(-5.00 85.2 490.0)"/>
<rect x="44.5" y="509.5" width="81.5" height="9" fill="#fcfaee" stroke="#2d2926" stroke-width="2.1" transform="rotate(-6.30 85.2 514.0)"/>
<path d="M211.0 274.0A62.3 62.3 0 0 1 167.6 291.0" fill="none" stroke="#2d2926" stroke-width="2.1" />
<path d="M211.0 308.0A62.3 62.3 0 0 0 167.6 291.0" fill="none" stroke="#2d2926" stroke-width="2.1" />
<polygon points="163.3,233.8 209.3,275.8 212.7,272.2 166.7,230.2" fill="#fcfaee" stroke="#2d2926" stroke-width="2.1"/>
<polygon points="166.7,351.8 212.7,309.8 209.3,306.2 163.3,348.2" fill="#fcfaee" stroke="#2d2926" stroke-width="2.1"/>
<path d="M211.0 435.0A62.3 62.3 0 0 1 167.6 453.0" fill="none" stroke="#2d2926" stroke-width="2.1" />
<path d="M211.0 471.0A62.3 62.3 0 0 0 167.6 453.0" fill="none" stroke="#2d2926" stroke-width="2.1" />
<polygon points="163.3,394.8 209.3,436.8 212.7,433.2 166.7,391.2" fill="#fcfaee" stroke="#2d2926" stroke-width="2.1"/>
<polygon points="166.7,514.8 212.7,472.8 209.3,469.2 163.3,511.2" fill="#fcfaee" stroke="#2d2926" stroke-width="2.1"/>
<line x1="826.9" y1="851.5" x2="1362.0" y2="851.5" stroke="#4d4630" stroke-width="3" stroke-dasharray="5 3.7" />
<rect x="852.9" y="810.7" width="9" height="82.5" fill="#fcfaee" stroke="#2d2926" stroke-width="2.1" transform="rotate(-6.40 857.4 852.0)"/>
<rect x="884.6" y="811.0" width="9" height="82.0" fill="#fcfaee" stroke="#2d2926" stroke-width="2.1" transform="rotate(1.89 889.1 852.0)"/>
<rect x="903.5" y="811.0" width="9" height="82.0" fill="#fcfaee" stroke="#2d2926" stroke-width="2.1" transform="rotate(-0.00 908.0 852.0)"/>
<rect x="935.6" y="810.8" width="9" height="82.5" fill="#fcfaee" stroke="#2d2926" stroke-width="2.1" transform="rotate(-6.06 940.1 852.0)"/>
<rect x="967.0" y="811.0" width="9" height="82.1" fill="#fcfaee" stroke="#2d2926" stroke-width="2.1" transform="rotate(2.10 971.5 852.0)"/>
<rect x="998.8" y="810.9" width="9" height="82.3" fill="#fcfaee" stroke="#2d2926" stroke-width="2.1" transform="rotate(-4.53 1003.2 852.0)"/>
<rect x="1018.0" y="811.0" width="9" height="82.0" fill="#fcfaee" stroke="#2d2926" stroke-width="2.1" transform="rotate(0.70 1022.5 852.0)"/>
<rect x="1055.5" y="811.0" width="9" height="82.0" fill="#fcfaee" stroke="#2d2926" stroke-width="2.1" transform="rotate(1.40 1060.0 852.0)"/>
<rect x="1074.9" y="811.0" width="9" height="82.0" fill="#fcfaee" stroke="#2d2926" stroke-width="2.1" transform="rotate(-0.14 1079.4 852.0)"/>
<rect x="1107.0" y="810.8" width="9" height="82.5" fill="#fcfaee" stroke="#2d2926" stroke-width="2.1" transform="rotate(-6.26 1111.5 852.0)"/>
<rect x="1139.0" y="811.0" width="9" height="82.1" fill="#fcfaee" stroke="#2d2926" stroke-width="2.1" transform="rotate(2.10 1143.5 852.0)"/>
<rect x="1170.5" y="810.9" width="9" height="82.2" fill="#fcfaee" stroke="#2d2926" stroke-width="2.1" transform="rotate(-4.18 1175.0 852.0)"/>
<rect x="1194.8" y="810.8" width="9" height="82.5" fill="#fcfaee" stroke="#2d2926" stroke-width="2.1" transform="rotate(-6.26 1199.3 852.0)"/>
<rect x="1222.8" y="811.0" width="9" height="82.1" fill="#fcfaee" stroke="#2d2926" stroke-width="2.1" transform="rotate(2.37 1227.3 852.0)"/>
<rect x="1242.0" y="811.0" width="9" height="82.0" fill="#fcfaee" stroke="#2d2926" stroke-width="2.1" transform="rotate(-0.00 1246.5 852.0)"/>
<rect x="1274.1" y="810.8" width="9" height="82.4" fill="#fcfaee" stroke="#2d2926" stroke-width="2.1" transform="rotate(-5.85 1278.6 852.0)"/>
<rect x="1303.5" y="811.0" width="9" height="82.0" fill="#fcfaee" stroke="#2d2926" stroke-width="2.1" transform="rotate(1.96 1308.0 852.0)"/>
<rect x="1323.0" y="811.0" width="9" height="82.0" fill="#fcfaee" stroke="#2d2926" stroke-width="2.1" transform="rotate(-0.00 1327.5 852.0)"/>
<path d="M944.5 715.0A97.0 97.0 0 0 1 973.0 785.0" fill="none" stroke="#2d2926" stroke-width="2.1" />
<path d="M1001.0 715.0A96.9 96.9 0 0 0 973.0 785.0" fill="none" stroke="#2d2926" stroke-width="2.1" />
<polygon points="879.2,786.7 946.3,716.7 942.7,713.3 875.6,783.3" fill="#fcfaee" stroke="#2d2926" stroke-width="2.1"/>
<polygon points="1069.8,783.3 1002.8,713.3 999.2,716.7 1066.2,786.7" fill="#fcfaee" stroke="#2d2926" stroke-width="2.1"/>
<path d="M1188.4 714.0A98.5 98.5 0 0 1 1216.3 784.3" fill="none" stroke="#2d2926" stroke-width="2.1" />
<path d="M1244.3 714.0A98.7 98.7 0 0 0 1216.3 784.3" fill="none" stroke="#2d2926" stroke-width="2.1" />
<polygon points="1122.6,787.4 1190.2,715.7 1186.6,712.3 1119.0,784.0" fill="#fcfaee" stroke="#2d2926" stroke-width="2.1"/>
<polygon points="1314.0,784.0 1246.1,712.3 1242.5,715.7 1310.4,787.4" fill="#fcfaee" stroke="#2d2926" stroke-width="2.1"/>
<rect x="481.2" y="779.2" width="112.1" height="93.8" fill="#fcfaee" stroke="#2d2926" stroke-width="2.2" />
<line x1="494.2" y1="779.0" x2="494.2" y2="873.0" stroke="#2d2926" stroke-width="2.2" />
<path d="M660.0 808.3A62.0 62.0 0 0 1 617.4 825.5" fill="none" stroke="#2d2926" stroke-width="2.1" />
<path d="M660.0 843.0A61.8 61.8 0 0 0 617.4 825.5" fill="none" stroke="#2d2926" stroke-width="2.1" />
<polygon points="612.6,768.2 658.3,810.1 661.7,806.5 616.0,764.6" fill="#fcfaee" stroke="#2d2926" stroke-width="2.1"/>
<polygon points="616.0,886.4 661.7,844.8 658.3,841.2 612.6,882.8" fill="#fcfaee" stroke="#2d2926" stroke-width="2.1"/>
<line x1="311.0" y1="1790.5" x2="479.0" y2="1790.5" stroke="#4d4630" stroke-width="3" stroke-dasharray="5 3.7" />
<rect x="332.7" y="1751.1" width="9" height="81.6" fill="#fcfaee" stroke="#2d2926" stroke-width="2.1" transform="rotate(-6.76 337.2 1791.9)"/>
<rect x="362.9" y="1751.4" width="9" height="81.0" fill="#fcfaee" stroke="#2d2926" stroke-width="2.1" transform="rotate(1.91 367.4 1791.9)"/>
<rect x="382.1" y="1751.4" width="9" height="81.0" fill="#fcfaee" stroke="#2d2926" stroke-width="2.1" transform="rotate(-0.00 386.6 1791.9)"/>
<rect x="414.5" y="1751.2" width="9" height="81.5" fill="#fcfaee" stroke="#2d2926" stroke-width="2.1" transform="rotate(-6.34 419.0 1791.9)"/>
<rect x="446.6" y="1751.4" width="9" height="81.0" fill="#fcfaee" stroke="#2d2926" stroke-width="2.1" transform="rotate(1.98 451.1 1791.9)"/>
<path d="M373.0 1672.0A71.1 71.1 0 0 1 395.5 1723.5" fill="none" stroke="#2d2926" stroke-width="2.1" />
<path d="M416.0 1672.0A72.1 72.1 0 0 0 395.5 1723.5" fill="none" stroke="#2d2926" stroke-width="2.1" />
<polygon points="325.8,1725.2 374.8,1673.7 371.2,1670.3 322.2,1721.8" fill="#fcfaee" stroke="#2d2926" stroke-width="2.1"/>
<polygon points="468.3,1721.7 417.8,1670.2 414.2,1673.8 464.7,1725.3" fill="#fcfaee" stroke="#2d2926" stroke-width="2.1"/>
<line x1="636.0" y1="2779.0" x2="878.3" y2="2779.0" stroke="#4d4630" stroke-width="3" stroke-dasharray="5 3.7" />
<rect x="651.0" y="2739.4" width="9" height="81.6" fill="#fcfaee" stroke="#2d2926" stroke-width="2.1" transform="rotate(-6.69 655.5 2780.2)"/>
<rect x="682.6" y="2739.7" width="9" height="81.1" fill="#fcfaee" stroke="#2d2926" stroke-width="2.1" transform="rotate(2.33 687.1 2780.2)"/>
<rect x="714.8" y="2739.6" width="9" height="81.2" fill="#fcfaee" stroke="#2d2926" stroke-width="2.1" transform="rotate(-4.31 719.2 2780.2)"/>
<rect x="738.8" y="2739.5" width="9" height="81.4" fill="#fcfaee" stroke="#2d2926" stroke-width="2.1" transform="rotate(-5.99 743.2 2780.2)"/>
<rect x="770.6" y="2739.7" width="9" height="81.0" fill="#fcfaee" stroke="#2d2926" stroke-width="2.1" transform="rotate(1.98 775.1 2780.2)"/>
<rect x="790.5" y="2739.7" width="9" height="81.0" fill="#fcfaee" stroke="#2d2926" stroke-width="2.1" transform="rotate(-0.00 795.0 2780.2)"/>
<rect x="822.4" y="2739.5" width="9" height="81.4" fill="#fcfaee" stroke="#2d2926" stroke-width="2.1" transform="rotate(-5.43 826.9 2780.2)"/>
<rect x="854.4" y="2739.7" width="9" height="81.0" fill="#fcfaee" stroke="#2d2926" stroke-width="2.1" transform="rotate(1.98 858.9 2780.2)"/>
<path d="M654 540A134 134 0 0 1 788 406" fill="none" stroke="#2d2926" stroke-width="2.1" />
<rect x="786.7" y="406.0" width="4.3" height="136.0" fill="#fcfaee" stroke="#2d2926" stroke-width="2.1" />
<path d="M828.5 630A140 140 0 0 1 922 668" fill="none" stroke="#2d2926" stroke-width="2.1" />
<polygon points="825.3,767.3 923.6,669.8 920.0,666.2 821.7,763.7" fill="#fcfaee" stroke="#2d2926" stroke-width="2.1"/>
<path d="M310.5 583A139 134 0 0 0 449 716" fill="none" stroke="#2d2926" stroke-width="2.1" />
<rect x="310.5" y="576.8" width="138.9" height="6.2" fill="#fcfaee" stroke="#2d2926" stroke-width="2.1" />
<line x1="468.8" y1="578.0" x2="468.8" y2="714.0" stroke="#2d2926" stroke-width="2.1" />
<path d="M47 1577.8A146.6 145 0 0 1 193.6 1722" fill="none" stroke="#2d2926" stroke-width="2.1" />
<rect x="47.0" y="1577.8" width="7.0" height="144.6" fill="#fcfaee" stroke="#2d2926" stroke-width="2.1" />
<line x1="47.0" y1="1746.6" x2="193.0" y2="1746.6" stroke="#2d2926" stroke-width="2.1" />
<path d="M614.5 1838A138 138 0 0 0 654.8 1741" fill="none" stroke="#2d2926" stroke-width="2.1" />
<polygon points="515.7,1741.8 612.2,1840.1 615.8,1836.5 519.3,1738.2" fill="#fcfaee" stroke="#2d2926" stroke-width="2.1"/>
<path d="M695.2 2226A73 73 0 0 1 622 2295" fill="none" stroke="#2d2926" stroke-width="2.1" />
<rect x="622.0" y="2222.2" width="73.2" height="5.5" fill="#fcfaee" stroke="#2d2926" stroke-width="2" />
<path d="M695.2 2364A73 73 0 0 0 622 2295" fill="none" stroke="#2d2926" stroke-width="2.1" />
<rect x="622.0" y="2362.5" width="73.2" height="6.0" fill="#fcfaee" stroke="#2d2926" stroke-width="2" />
<line x1="621.8" y1="2222.0" x2="621.8" y2="2368.0" stroke="#2d2926" stroke-width="2" />
<path d="M721.3 2535A140.5 143.3 0 0 0 861.8 2678.3" fill="none" stroke="#2d2926" stroke-width="2.1" />
<rect x="861.4" y="2531.9" width="5.3" height="146.4" fill="#fcfaee" stroke="#2d2926" stroke-width="2.1" />
<rect x="35.8" y="562.8" width="128.4" height="237.2" fill="#fcfaee" />
<line x1="164.2" y1="562.8" x2="164.2" y2="800.0" stroke="#2d2926" stroke-width="2.1" />
<path d="M48 624.4A51.7 51.7 0 0 1 151.4 624.4V783.5Q151.4 790.5 144.4 790.5H55Q48 790.5 48 783.5Z" fill="none" stroke="#2d2926" stroke-width="2.1" />
<circle cx="99.7" cy="681.6" r="6.0" fill="#2d2926" stroke="none" stroke-width="0"/>
<circle cx="99.7" cy="741.7" r="23.0" fill="none" stroke="#2d2926" stroke-width="2.1"/>
<rect x="95.8" y="741.0" width="7.6" height="60.0" fill="#2d2926" />
<path d="M166 899V817Q166 810 173 810H296.4Q303.4 810 303.4 817V899Z" fill="#fcfaee" stroke="#2d2926" stroke-width="2.1" />
<rect x="182.7" y="824.0" width="102.3" height="61.5" fill="none" stroke="#2d2926" stroke-width="1.8" />
<circle cx="233.5" cy="850.0" r="5.5" fill="#2d2926" stroke="none" stroke-width="0"/>
<path d="M230.5 862.5H236.5L240.0 891.0Q233.5 896.0 227.0 891.0Z" fill="#2d2926" stroke="none" stroke-width="0" />
<rect x="345.0" y="830.0" width="58.7" height="36.0" fill="#fcfaee" stroke="#2d2926" stroke-width="2.1" />
<path d="M332.7 899V870Q332.7 864 338.7 864H409Q415 864 415 870V899Z" fill="#fcfaee" stroke="#2d2926" stroke-width="2.1" />
<path d="M374 768.4C396 768.4 408.7 784 408.7 806C408.7 832 393 863.4 374 863.4C355 863.4 339.7 832 339.7 806C339.7 784 352 768.4 374 768.4Z" fill="#fcfaee" stroke="#2d2926" stroke-width="2.1" />
<rect x="36.0" y="920.2" width="100.3" height="473.8" fill="#fcfaee" />
<line x1="136.3" y1="920.2" x2="136.3" y2="1394.0" stroke="#2d2926" stroke-width="2.1" />
<rect x="36.0" y="936.3" width="106.5" height="133.2" fill="#fcfaee" stroke="#2d2926" stroke-width="2.1" />
<rect x="142.5" y="936.3" width="10.5" height="67.1" fill="#fcfaee" stroke="#2d2926" stroke-width="2.1" />
<rect x="142.5" y="1003.4" width="10.5" height="66.1" fill="#fcfaee" stroke="#2d2926" stroke-width="2.1" />
<rect x="136.3" y="1198.0" width="9.7" height="103.7" fill="#fcfaee" stroke="#2d2926" stroke-width="2.1" />
<line x1="136.3" y1="1207.3" x2="146.0" y2="1207.3" stroke="#2d2926" stroke-width="1.6" />
<line x1="136.3" y1="1293.9" x2="146.0" y2="1293.9" stroke="#2d2926" stroke-width="1.6" />
<line x1="36.0" y1="1191.3" x2="136.3" y2="1191.3" stroke="#2d2926" stroke-width="2.1" />
<line x1="36.0" y1="1307.8" x2="136.3" y2="1307.8" stroke="#2d2926" stroke-width="2.1" />
<line x1="85.0" y1="920.2" x2="85.0" y2="1394.0" stroke="#2d2926" stroke-width="2.1" stroke-dasharray="19 20.6" stroke-dashoffset="10.9"/>
<circle cx="63.7" cy="1223.2" r="16.5" fill="#fcfaee" stroke="#2d2926" stroke-width="2.1"/>
<circle cx="63.7" cy="1276.5" r="16.5" fill="#fcfaee" stroke="#2d2926" stroke-width="2.1"/>
<circle cx="107.0" cy="1223.2" r="16.5" fill="#fcfaee" stroke="#2d2926" stroke-width="2.1"/>
<circle cx="107.0" cy="1276.5" r="16.5" fill="#fcfaee" stroke="#2d2926" stroke-width="2.1"/>
<rect x="313.4" y="920.2" width="150.3" height="444.8" fill="#fcfaee" stroke="#2d2926" stroke-width="2.1" />
<line x1="416.0" y1="920.2" x2="416.0" y2="1365.0" stroke="#2d2926" stroke-width="2.1" />
<line x1="435.0" y1="920.2" x2="435.0" y2="1365.0" stroke="#2d2926" stroke-width="2.1" />
<rect x="305.0" y="925.5" width="8.4" height="106.9" fill="#fcfaee" stroke="#2d2926" stroke-width="2.1" />
<line x1="314.5" y1="924.9" x2="414.5" y2="924.9" stroke="#4d4630" stroke-width="3.3" stroke-dasharray="5 3.7" />
<line x1="314.5" y1="1032.2" x2="414.5" y2="1032.2" stroke="#4d4630" stroke-width="3.3" stroke-dasharray="5 3.7" />
<rect x="330.0" y="1037.7" width="62.0" height="111.8" fill="none" stroke="#2d2926" stroke-width="1.8" />
<circle cx="356.5" cy="1093.6" r="6.0" fill="#2d2926" stroke="none" stroke-width="0"/>
<path d="M369.6 1090.8L396.5 1087.7Q402.5 1093.7 396.5 1099.7L369.6 1096.4Z" fill="#2d2926" stroke="none" stroke-width="0" />
<rect x="413.9" y="2025.8" width="188.1" height="145.7" fill="#fcfaee" />
<line x1="413.4" y1="2171.5" x2="602.0" y2="2171.5" stroke="#2d2926" stroke-width="2.1" />
<rect x="423.5" y="2036.0" width="168.5" height="123.0" fill="none" stroke="#2d2926" stroke-width="2.1" />
<line x1="423.5" y1="2036.0" x2="498.5" y2="2089.3" stroke="#2d2926" stroke-width="2.1" />
<line x1="592.0" y1="2036.0" x2="515.5" y2="2089.3" stroke="#2d2926" stroke-width="2.1" />
<line x1="423.5" y1="2159.0" x2="498.5" y2="2106.3" stroke="#2d2926" stroke-width="2.1" />
<line x1="592.0" y1="2159.0" x2="515.5" y2="2106.3" stroke="#2d2926" stroke-width="2.1" />
<rect x="498.5" y="2089.3" width="17.0" height="17.0" fill="#fcfaee" stroke="#2d2926" stroke-width="2.1" />
<circle cx="507.0" cy="2097.8" r="5.0" fill="#2d2926" stroke="none" stroke-width="0"/>
<circle cx="461.5" cy="2097.8" r="19.5" fill="#fcfaee" stroke="#2d2926" stroke-width="2.1"/>
<rect x="413.0" y="2094.6" width="52.5" height="7.0" fill="#2d2926" />
<rect x="344.0" y="2215.0" width="36.0" height="57.0" fill="#fcfaee" stroke="#2d2926" stroke-width="2.1" />
<path d="M311 2203H340Q346 2203 346 2209V2279Q346 2285 340 2285H311Z" fill="#fcfaee" stroke="#2d2926" stroke-width="2.1" />
<path d="M346 2243.8C346 2224 372 2209.5 404 2209.5C427 2209.5 441 2223 441 2243.8C441 2264 427 2278 404 2278C372 2278 346 2263 346 2243.8Z" fill="#fcfaee" stroke="#2d2926" stroke-width="2.1" />
<path d="M311 2513V2430Q311 2423 318 2423H595Q602 2423 602 2430V2513Z" fill="#fcfaee" stroke="#2d2926" stroke-width="2.1" />
<rect x="333.0" y="2437.0" width="102.8" height="61.0" fill="none" stroke="#2d2926" stroke-width="1.8" />
<rect x="477.6" y="2437.0" width="103.4" height="61.0" fill="none" stroke="#2d2926" stroke-width="1.8" />
<circle cx="384.4" cy="2462.6" r="5.5" fill="#2d2926" stroke="none" stroke-width="0"/>
<path d="M381.4 2475.1H387.4L390.9 2503.6Q384.4 2508.6 377.9 2503.6Z" fill="#2d2926" stroke="none" stroke-width="0" />
<circle cx="528.5" cy="2462.6" r="5.5" fill="#2d2926" stroke="none" stroke-width="0"/>
<path d="M525.5 2475.1H531.5L535.0 2503.6Q528.5 2508.6 522.0 2503.6Z" fill="#2d2926" stroke="none" stroke-width="0" />
<rect x="1361.1" y="172.9" width="31.9" height="291.8" fill="#2d2926" />
<rect x="1364.7" y="174.8" width="25.7" height="6.2" fill="#fcfaee" />
<rect x="1364.7" y="315.9" width="25.7" height="6.0" fill="#fcfaee" />
<rect x="1364.7" y="457.2" width="25.7" height="5.8" fill="#fcfaee" />
<rect x="1364.7" y="183.8" width="8.1" height="129.3" fill="#fcfaee" />
<rect x="1375.1" y="183.8" width="4.6" height="129.3" fill="#fcfaee" />
<rect x="1381.8" y="183.8" width="2.3" height="129.3" fill="#8f887c" />
<rect x="1386.0" y="183.8" width="4.4" height="129.3" fill="#fcfaee" />
<rect x="1364.7" y="324.7" width="8.1" height="129.7" fill="#fcfaee" />
<rect x="1375.1" y="324.7" width="4.6" height="129.7" fill="#fcfaee" />
<rect x="1381.8" y="324.7" width="2.3" height="129.7" fill="#8f887c" />
<rect x="1386.0" y="324.7" width="4.4" height="129.7" fill="#fcfaee" />
<rect x="1361.1" y="1320.3" width="31.9" height="290.4" fill="#2d2926" />
<rect x="1364.7" y="1322.2" width="25.7" height="5.8" fill="#fcfaee" />
<rect x="1364.7" y="1463.0" width="25.7" height="5.3" fill="#fcfaee" />
<rect x="1364.7" y="1603.8" width="25.7" height="5.2" fill="#fcfaee" />
<rect x="1364.7" y="1330.8" width="8.1" height="129.4" fill="#fcfaee" />
<rect x="1375.1" y="1330.8" width="4.6" height="129.4" fill="#fcfaee" />
<rect x="1381.8" y="1330.8" width="2.3" height="129.4" fill="#8f887c" />
<rect x="1386.0" y="1330.8" width="4.4" height="129.4" fill="#fcfaee" />
<rect x="1364.7" y="1471.1" width="8.1" height="129.9" fill="#fcfaee" />
<rect x="1375.1" y="1471.1" width="4.6" height="129.9" fill="#fcfaee" />
<rect x="1381.8" y="1471.1" width="2.3" height="129.9" fill="#8f887c" />
<rect x="1386.0" y="1471.1" width="4.4" height="129.9" fill="#fcfaee" />
<rect x="1361.1" y="1674.2" width="31.9" height="167.6" fill="#2d2926" />
<rect x="1364.7" y="1676.3" width="25.7" height="6.2" fill="#fcfaee" />
<rect x="1364.7" y="1834.2" width="25.7" height="5.8" fill="#fcfaee" />
<rect x="1364.7" y="1685.3" width="8.1" height="146.1" fill="#fcfaee" />
<rect x="1375.1" y="1685.3" width="4.6" height="146.1" fill="#fcfaee" />
<rect x="1381.8" y="1685.3" width="2.3" height="146.1" fill="#8f887c" />
<rect x="1386.0" y="1685.3" width="4.4" height="146.1" fill="#fcfaee" />
<rect x="1361.1" y="954.0" width="31.9" height="290.9" fill="#2d2926" />
<rect x="1364.7" y="955.9" width="25.7" height="14.8" fill="#fcfaee" />
<rect x="1364.7" y="972.8" width="25.7" height="253.3" fill="#fcfaee" />
<rect x="1364.7" y="1228.2" width="25.7" height="14.8" fill="#fcfaee" />
<rect x="1370.4" y="971.8" width="7.0" height="127.4" fill="none" stroke="#2d2926" stroke-width="2.3" />
<rect x="1377.4" y="1093.3" width="7.5" height="133.9" fill="none" stroke="#2d2926" stroke-width="2.3" />
<line x1="1370.4" y1="980.7" x2="1377.4" y2="980.7" stroke="#2d2926" stroke-width="2.3" />
<line x1="1377.4" y1="1218.3" x2="1384.9" y2="1218.3" stroke="#2d2926" stroke-width="2.3" />
<rect x="138.1" y="42.8" width="31.6" height="121.3" fill="#2d2926" />
<rect x="141.0" y="45.6" width="26.1" height="4.3" fill="#fcfaee" />
<rect x="141.0" y="157.1" width="26.1" height="4.8" fill="#fcfaee" />
<rect x="141.0" y="52.0" width="5.1" height="103.2" fill="#fcfaee" />
<rect x="147.9" y="52.0" width="1.2" height="103.2" fill="#b9b0a4" />
<rect x="151.8" y="52.0" width="4.8" height="103.2" fill="#fcfaee" />
<rect x="158.8" y="52.0" width="8.3" height="103.2" fill="#fcfaee" />
<rect x="181.5" y="1.0" width="143.9" height="30.5" fill="#2d2926" />
<rect x="182.9" y="3.8" width="5.4" height="25.0" fill="#fcfaee" />
<rect x="318.3" y="3.8" width="5.7" height="25.0" fill="#fcfaee" />
<rect x="191.0" y="3.8" width="124.9" height="4.1" fill="#fcfaee" />
<rect x="191.0" y="9.8" width="124.9" height="1.1" fill="#b9b0a4" />
<rect x="191.0" y="13.6" width="124.9" height="5.0" fill="#fcfaee" />
<rect x="191.0" y="21.3" width="124.9" height="7.5" fill="#fcfaee" />
<filter id="idf" x="0" y="0" width="100%" height="100%" filterUnits="userSpaceOnUse" color-interpolation-filters="sRGB"><feOffset dx="0" dy="0"/></filter><g filter="url(#idf)">
<rect x="399.1" y="200.5" width="194.2" height="72.4" fill="#fcfaee" />
<text x="421.3" y="229.6" font-family="'Liberation Sans', sans-serif" font-size="32.5" fill="#231f20" textLength="150.4" lengthAdjust="spacingAndGlyphs">BEDROOM</text>
<text x="402.0" y="265.5" font-family="'Liberation Sans', sans-serif" font-size="27.5" fill="#231f20" textLength="190.0" lengthAdjust="spacingAndGlyphs">13' - 3&quot; x 10' - 8&quot;</text>
<rect x="107.5" y="339.5" width="169.5" height="72.5" fill="#fcfaee" />
<text x="137.0" y="369.0" font-family="'Liberation Sans', sans-serif" font-size="32.1" fill="#231f20" textLength="111.0" lengthAdjust="spacingAndGlyphs">CLOSET</text>
<text x="114.5" y="404.3" font-family="'Liberation Sans', sans-serif" font-size="27.4" fill="#231f20" textLength="162.0" lengthAdjust="spacingAndGlyphs">2' - 7&quot; x 7' - 2&quot;</text>
<rect x="1001.0" y="320.2" width="201.5" height="72.3" fill="#fcfaee" />
<text x="1026.0" y="348.5" font-family="'Liberation Sans', sans-serif" font-size="32.1" fill="#231f20" textLength="151.5" lengthAdjust="spacingAndGlyphs">BEDROOM</text>
<text x="1004.0" y="384.8" font-family="'Liberation Sans', sans-serif" font-size="27.7" fill="#231f20" textLength="196.7" lengthAdjust="spacingAndGlyphs">11' - 2&quot; x &#160;15' - 7&quot;</text>
<rect x="997.0" y="814.3" width="182.5" height="71.4" fill="#fcfaee" />
<text x="1033.7" y="843.3" font-family="'Liberation Sans', sans-serif" font-size="32.1" fill="#231f20" textLength="108.3" lengthAdjust="spacingAndGlyphs">CLOSET</text>
<text x="1000.0" y="879.6" font-family="'Liberation Sans', sans-serif" font-size="27.5" fill="#231f20" textLength="177.5" lengthAdjust="spacingAndGlyphs">2' - 2&quot; x 11' - 2&quot;</text>
<rect x="836.0" y="1230.7" width="238.0" height="72.3" fill="#fcfaee" />
<text x="838.9" y="1259.8" font-family="'Liberation Sans', sans-serif" font-size="32.5" fill="#231f20" textLength="231.9" lengthAdjust="spacingAndGlyphs">LIVING/KITCHEN</text>
<text x="850.9" y="1295.6" font-family="'Liberation Sans', sans-serif" font-size="27.1" fill="#231f20" textLength="207.9" lengthAdjust="spacingAndGlyphs">24' - 11&quot; x 14' - 7&quot;</text>
<rect x="815.6" y="1880.8" width="210.6" height="72.5" fill="#fcfaee" />
<text x="845.7" y="1909.6" font-family="'Liberation Sans', sans-serif" font-size="32.1" fill="#231f20" textLength="150.7" lengthAdjust="spacingAndGlyphs">BEDROOM</text>
<text x="819.3" y="1945.8" font-family="'Liberation Sans', sans-serif" font-size="27.0" fill="#231f20" textLength="205.0" lengthAdjust="spacingAndGlyphs">13' - 9&quot; x 14' - 11&quot;</text>
<text transform="translate(554.9,859.2) rotate(-90)" font-family="'Liberation Sans', sans-serif" font-size="46.5" fill="#231f20" stroke="#231f20" stroke-width="0.3" textLength="65.8" lengthAdjust="spacingAndGlyphs">WD</text>
<text transform="translate(344.6,936.2) rotate(90)" font-family="'Liberation Sans', sans-serif" font-size="58" fill="#231f20" stroke="#231f20" stroke-width="0.5" textLength="84.1" lengthAdjust="spacingAndGlyphs">DW</text>
</g>
</svg></body></html>
